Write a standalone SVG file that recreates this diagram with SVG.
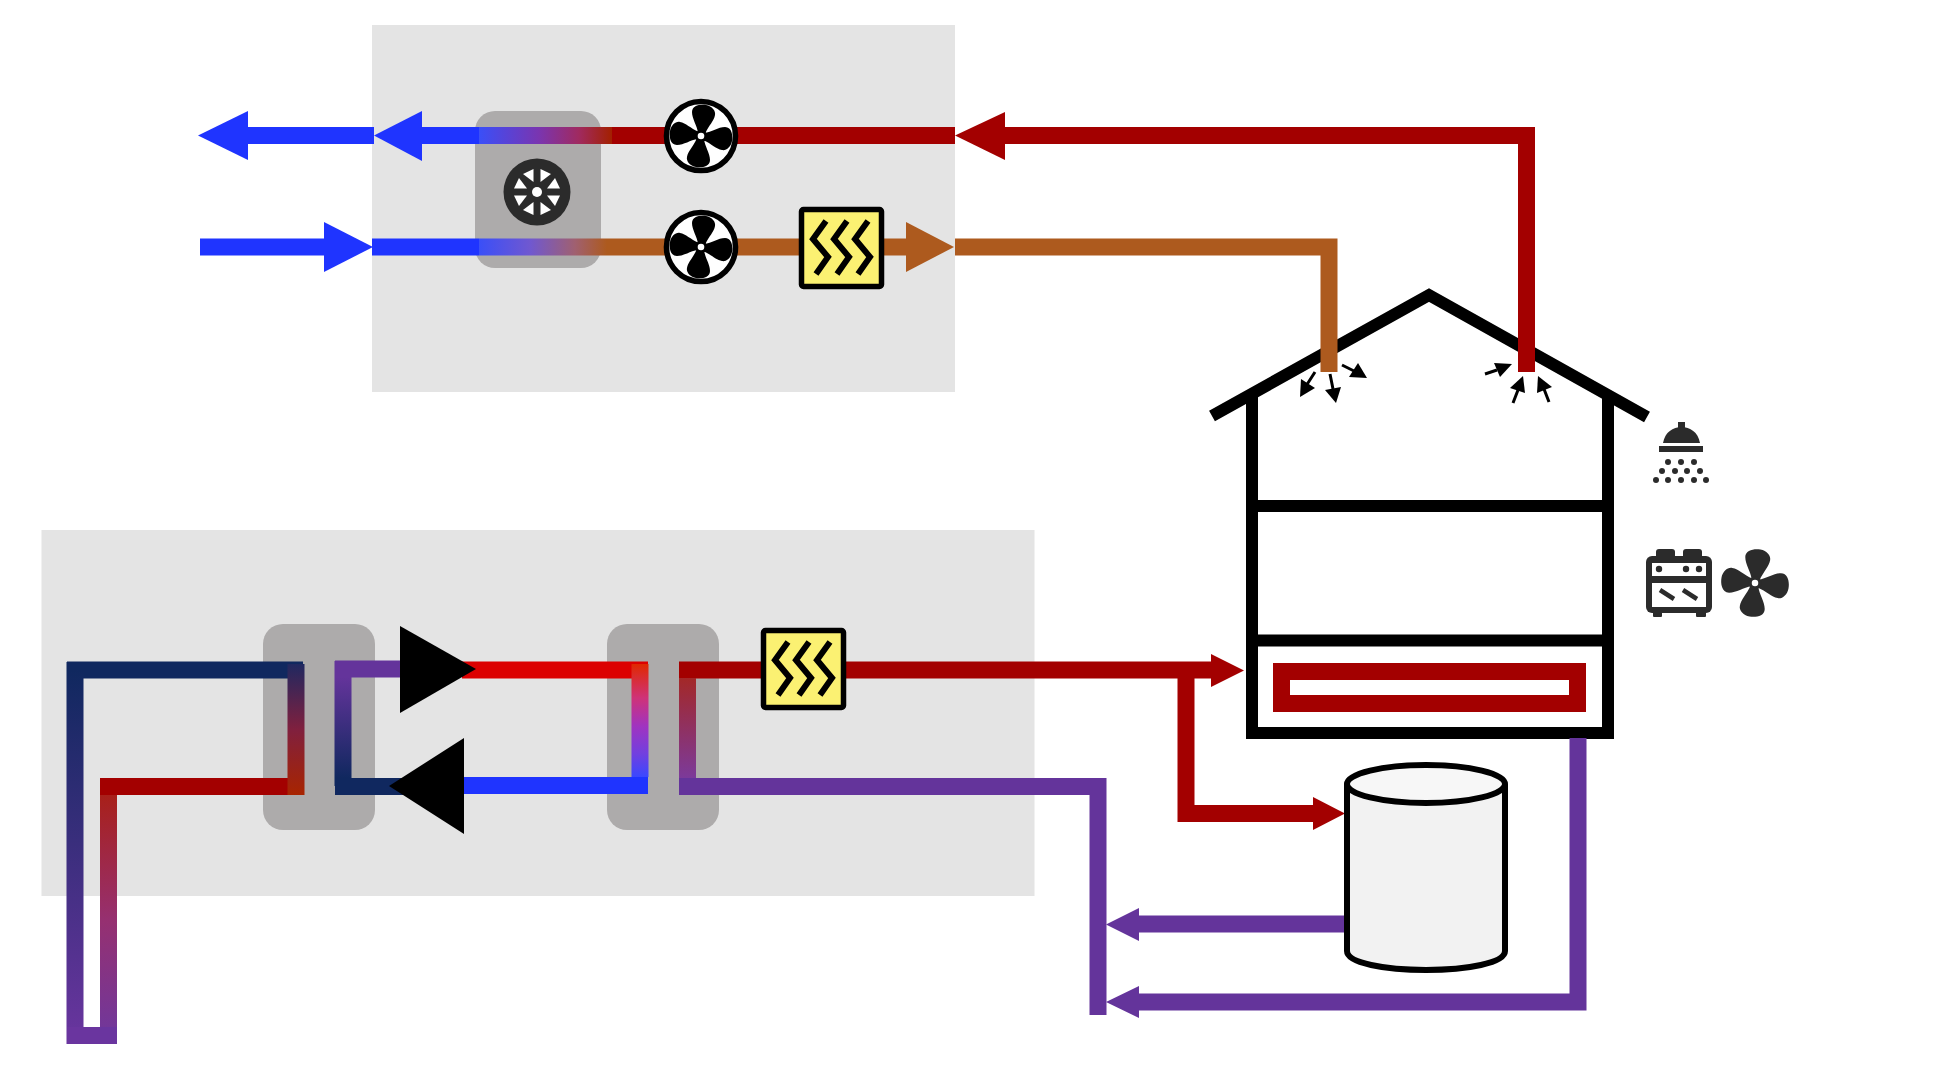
<svg xmlns="http://www.w3.org/2000/svg" xmlns:xlink="http://www.w3.org/1999/xlink" width="1933" height="1083" viewBox="0 0 1933 1083">
<style>
.panel{fill:#e4e4e4}
.box{fill:#adabab}
.pipe{fill:none;stroke-width:17;stroke-linejoin:miter;stroke-linecap:butt}
.red{stroke:#a30000}.brown{stroke:#ad5a1e}.blue{stroke:#1f34ff}.purple{stroke:#64349b}.navy{stroke:#10285f}.bright{stroke:#dc0000}
.fred{fill:#a30000}.fbrown{fill:#ad5a1e}.fblue{fill:#1f34ff}.fpurple{fill:#64349b}
.wall{fill:none;stroke:#000;stroke-width:12;stroke-linejoin:miter}
.tiny{stroke:#000;stroke-width:3;fill:none}
.icon{fill:#2b2b2b}
</style>
<defs>
<linearGradient id="gTop" gradientUnits="userSpaceOnUse" x1="479" y1="0" x2="612" y2="0"><stop offset="0" stop-color="#3a4ff8"/><stop offset=".45" stop-color="#7a35b0"/><stop offset=".75" stop-color="#a02a60"/><stop offset="1" stop-color="#a32000"/></linearGradient>
<linearGradient id="gBot" gradientUnits="userSpaceOnUse" x1="479" y1="0" x2="607" y2="0"><stop offset="0" stop-color="#3a4ff8"/><stop offset=".4" stop-color="#7058d0"/><stop offset=".75" stop-color="#a06070"/><stop offset="1" stop-color="#ad5a1e"/></linearGradient>
<linearGradient id="gL1" gradientUnits="userSpaceOnUse" x1="0" y1="670" x2="0" y2="1044"><stop offset="0" stop-color="#10285f"/><stop offset="1" stop-color="#6a359f"/></linearGradient>
<linearGradient id="gL2" gradientUnits="userSpaceOnUse" x1="0" y1="795" x2="0" y2="1044"><stop offset="0" stop-color="#a8201a"/><stop offset=".5" stop-color="#963070"/><stop offset="1" stop-color="#6d389f"/></linearGradient>
<linearGradient id="gH1a" gradientUnits="userSpaceOnUse" x1="0" y1="664" x2="0" y2="795"><stop offset="0" stop-color="#202860"/><stop offset=".5" stop-color="#80203e"/><stop offset="1" stop-color="#a82400"/></linearGradient>
<linearGradient id="gH1b" gradientUnits="userSpaceOnUse" x1="0" y1="677" x2="0" y2="778"><stop offset="0" stop-color="#64349b"/><stop offset="1" stop-color="#10285f"/></linearGradient>
<linearGradient id="gH2a" gradientUnits="userSpaceOnUse" x1="0" y1="664" x2="0" y2="777"><stop offset="0" stop-color="#e02800"/><stop offset=".3" stop-color="#cf3378"/><stop offset=".55" stop-color="#a034c0"/><stop offset=".8" stop-color="#7040e0"/><stop offset="1" stop-color="#3a48ff"/></linearGradient>
<linearGradient id="gH2b" gradientUnits="userSpaceOnUse" x1="0" y1="678" x2="0" y2="778"><stop offset="0" stop-color="#a32828"/><stop offset="1" stop-color="#7c3a9a"/></linearGradient>
<path id="blade" d="M-3,-3C-4,-11-9,-17-9,-24C-9,-31 0,-32 5,-31C11,-30 15,-25 14,-21C13,-15 8,-11 4,-2Z"/>
<g id="blades">
<use xlink:href="#blade" href="#blade"/>
<use xlink:href="#blade" href="#blade" transform="rotate(90)"/>
<use xlink:href="#blade" href="#blade" transform="rotate(180)"/>
<use xlink:href="#blade" href="#blade" transform="rotate(270)"/>
<circle r="6"/>
</g>
<g id="fan">
<circle r="34.5" fill="#fff" stroke="#000" stroke-width="5.6"/>
<use xlink:href="#blades" href="#blades" fill="#000"/>
<circle r="3.3" fill="#fff"/>
</g>
<g id="heater">
<rect x="2.5" y="2.5" width="80" height="77" rx="2" fill="#fbf172" stroke="#000" stroke-width="5.5"/>
<path d="M27,14L14,32L29,50L17,67M48,14L35,32L50,50L38,67M69,14L56,32L71,50L59,67" fill="none" stroke="#000" stroke-width="6"/>
</g>
</defs>

<g id="panel-air"><rect class="panel" x="372" y="25" width="583" height="367"/></g>
<g id="panel-water"><rect class="panel" x="41.500" y="530" width="993" height="366"/></g>

<g id="hrv-box"><rect class="box" x="475" y="111" width="126" height="157" rx="20"/></g>
<g id="hx1-box"><rect class="box" x="263" y="624" width="112" height="206" rx="20"/></g>
<g id="hx2-box"><rect class="box" x="607" y="624" width="112" height="206" rx="20"/></g>

<g id="house">
<path class="wall" d="M1212,416L1429,295L1647,417"/>
<path class="wall" d="M1252,397V733H1608V397"/>
<path class="wall" d="M1252,506H1608"/>
<path class="wall" d="M1246,640.500H1614" stroke-width="13"/>
</g>

<g id="connectors">
<path class="pipe blue" d="M248,135.500H374"/>
<polygon class="fblue" points="198,135.500 248,111 248,160"/>
<path class="pipe blue" d="M422,135.500H479"/>
<polygon class="fblue" points="374,135.500 422,111 422,161"/>
<path class="pipe" stroke="url(#gTop)" d="M479,135.500H612"/>
<path class="pipe red" d="M612,135.500H955"/>
<path class="pipe red" d="M1005,135.500H1526.500V372"/>
<polygon class="fred" points="955,135.500 1005,112 1005,160"/>

<path class="pipe blue" d="M200,247H324"/>
<polygon class="fblue" points="373,247 324,222 324,272"/>
<path class="pipe blue" d="M372,247H479"/>
<path class="pipe" stroke="url(#gBot)" d="M479,247H607"/>
<path class="pipe brown" d="M607,247H906"/>
<polygon class="fbrown" points="954,247 906,222 906,272"/>
<path class="pipe brown" d="M955,247H1329V372"/>

<path class="pipe navy" d="M67,670H303"/>
<path class="pipe" stroke="url(#gL1)" d="M75,662V1044"/>
<path class="pipe" stroke="url(#gL2)" d="M108.500,795V1044"/>
<path class="pipe red" d="M100,786.500H304"/>
<path class="pipe" stroke="#6a359f" d="M67,1035.500H117"/>
<path class="pipe" stroke="url(#gH1a)" d="M296,664V795"/>
<path class="pipe purple" d="M335,669H400"/>
<path class="pipe" stroke="url(#gH1b)" d="M343,661V786"/>
<path class="pipe navy" d="M335,786.500H403"/>
<path class="pipe bright" d="M462,670H648"/>
<path class="pipe blue" d="M464,785.500H648"/>
<path class="pipe" stroke="url(#gH2a)" d="M640,664V777"/>
<path class="pipe red" d="M679,670H1211"/>
<path class="pipe" stroke="url(#gH2b)" d="M687.500,678V778"/>
<path class="pipe purple" d="M679,786.500H1098"/>
<path class="pipe purple" d="M1098,778V1015"/>
<polygon class="fred" points="1244,670.500 1211,654 1211,687"/>
<path class="pipe red" d="M1186,670V813.500H1313"/>
<polygon class="fred" points="1345,813.500 1313,797 1313,830"/>
<path class="pipe purple" d="M1139,924H1346"/>
<polygon class="fpurple" points="1106,924.500 1139,908 1139,941"/>
<path class="pipe purple" d="M1139,1002H1578V738"/>
<polygon class="fpurple" points="1106,1002 1139,986 1139,1018"/>
</g>

<g id="radiator"><rect x="1281.500" y="671.500" width="296" height="32" fill="none" stroke="#a30000" stroke-width="17"/></g>

<g id="tank">
<path d="M1347,784V951C1347,963 1385,970 1426,970C1467,970 1505,963 1505,951V784" fill="#f2f2f2" stroke="#000" stroke-width="6"/>
<ellipse cx="1426" cy="784" rx="79" ry="19" fill="#f7f7f7" stroke="#000" stroke-width="6"/>
</g>

<g id="fan-exhaust"><use xlink:href="#fan" href="#fan" x="701" y="136"/></g>
<g id="fan-supply"><use xlink:href="#fan" href="#fan" x="701" y="247"/></g>
<g id="heater-air"><use xlink:href="#heater" href="#heater" x="799" y="207"/></g>
<g id="heater-water"><use xlink:href="#heater" href="#heater" x="761" y="628"/></g>

<g id="pump-1"><polygon points="400,626 400,713 476,669" fill="#000"/></g>
<g id="pump-2"><polygon points="464,738 464,834 389,786" fill="#000"/></g>

<g id="wheel">
<circle cx="537" cy="192" r="33.500" fill="#2b2b2b"/>
<circle cx="537" cy="192" r="5" fill="#fff"/>
<g transform="translate(537 192)" fill="#fff">
<polygon points="3.500,-23 14,-18 3.500,-10"/><polygon points="23,-3.500 18,-14 10,-3.500"/>
<polygon points="-3.500,-23 -14,-18 -3.500,-10"/><polygon points="-23,-3.500 -18,-14 -10,-3.500"/>
<polygon points="3.500,23 14,18 3.500,10"/><polygon points="23,3.500 18,14 10,3.500"/>
<polygon points="-3.500,23 -14,18 -3.500,10"/><polygon points="-23,3.500 -18,14 -10,3.500"/>
</g>
</g>

<g id="vent-supply">
<path class="tiny" d="M1315,372L1306,386M1330,374L1333,389M1342,365L1354,371"/>
<polygon points="1300,397 1301,379 1315,388"/><polygon points="1336,403 1325,390 1341,387"/><polygon points="1367,378 1358,363 1349,377"/>
</g>
<g id="vent-extract">
<path class="tiny" d="M1485,374L1497,370M1513,403L1518,390M1549,402L1544,389"/>
<polygon points="1512,364 1494,363 1500,377"/><polygon points="1523,376 1510,388 1525,393"/><polygon points="1538,376 1537,393 1552,387"/>
</g>

<g id="shower-icon" class="icon">
<rect x="1678" y="422" width="7" height="8"/>
<path d="M1663,443C1665,432 1673,427 1681.500,427C1690,427 1698,432 1700,443Z"/>
<rect x="1659" y="446" width="44" height="6"/>
<circle cx="1668" cy="462" r="3"/><circle cx="1681" cy="462" r="3"/><circle cx="1694" cy="462" r="3"/>
<circle cx="1662" cy="471" r="3"/><circle cx="1675" cy="471" r="3"/><circle cx="1687" cy="471" r="3"/><circle cx="1700" cy="471" r="3"/>
<circle cx="1656" cy="480" r="3"/><circle cx="1668" cy="480" r="3"/><circle cx="1681" cy="480" r="3"/><circle cx="1694" cy="480" r="3"/><circle cx="1706" cy="480" r="3"/>
</g>

<g id="oven-icon">
<g class="icon">
<rect x="1656" y="549" width="19" height="14" rx="3"/><rect x="1683" y="549" width="19" height="14" rx="3"/>
<rect x="1653" y="605" width="9" height="12" rx="1"/><rect x="1696" y="605" width="10" height="12" rx="1"/>
<rect x="1646" y="556" width="66" height="57" rx="6"/>
</g>
<rect x="1652" y="563" width="54" height="13" fill="#fff"/><rect x="1652" y="583" width="54" height="24" fill="#fff"/>
<circle class="icon" cx="1659" cy="569" r="3.200"/><circle class="icon" cx="1686" cy="569" r="3.200"/><circle class="icon" cx="1699" cy="569" r="3.200"/>
<path d="M1660,590L1674,599M1683,590L1697,599" stroke="#2b2b2b" stroke-width="4.500" fill="none"/>
</g>

<g id="fan-icon"><g transform="translate(1755 583) scale(1.080)"><use xlink:href="#blades" href="#blades" fill="#2b2b2b"/><circle r="3" fill="#fff"/></g></g>
</svg>
